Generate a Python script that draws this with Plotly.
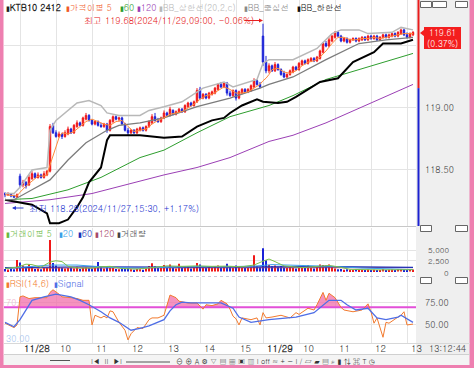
import plotly.graph_objects as go

# ---------------- data (5-minute candles, index 1 = 11/27 15:20) ----------------
candle_idx = list(range(1, 138))
opens = [118.31,118.30,118.31,118.29,118.28,118.45,118.38,118.40,118.38,118.43,
         118.47,118.44,118.46,118.44,118.46,118.49,118.86,118.80,118.77,118.79,
         118.77,118.79,118.83,118.80,118.85,118.88,118.86,118.91,118.94,118.90,
         118.87,118.89,118.86,118.85,118.87,118.82,118.89,118.93,118.91,118.92,
         118.87,118.82,118.80,118.82,118.80,118.82,118.84,118.82,118.85,118.88,
         118.93,118.90,118.89,118.92,118.96,118.94,118.98,118.95,118.97,118.99,
         118.97,119.01,119.04,119.02,119.05,119.15,119.08,119.11,119.08,119.11,
         119.12,119.15,119.19,119.17,119.20,119.12,119.10,119.14,119.08,119.12,
         119.15,119.13,119.14,119.17,119.22,119.19,119.58,119.37,119.30,119.34,
         119.30,119.35,119.31,119.28,119.25,119.27,119.29,119.33,119.31,119.35,
         119.38,119.36,119.38,119.40,119.38,119.40,119.45,119.52,119.50,119.54,
         119.57,119.61,119.58,119.54,119.56,119.53,119.55,119.56,119.54,119.55,
         119.57,119.55,119.58,119.56,119.58,119.55,119.57,119.59,119.57,119.58,
         119.60,119.58,119.60,119.63,119.59,119.57,119.59]
closes = [118.30,118.31,118.29,118.28,118.30,118.38,118.40,118.37,118.44,118.47,
          118.44,118.46,118.44,118.47,118.49,118.85,118.80,118.77,118.79,118.77,
          118.80,118.83,118.80,118.86,118.88,118.86,118.92,118.94,118.90,118.87,
          118.89,118.86,118.85,118.87,118.82,118.90,118.93,118.91,118.92,118.87,
          118.82,118.80,118.82,118.80,118.83,118.84,118.82,118.85,118.89,118.93,
          118.90,118.89,118.92,118.96,118.94,118.99,118.95,118.97,118.99,118.97,
          119.02,119.04,119.02,119.05,119.14,119.08,119.11,119.08,119.12,119.13,
          119.16,119.19,119.17,119.20,119.12,119.10,119.14,119.08,119.13,119.15,
          119.13,119.15,119.18,119.22,119.19,119.17,119.37,119.30,119.34,119.30,
          119.35,119.31,119.27,119.25,119.27,119.30,119.33,119.31,119.36,119.38,
          119.36,119.39,119.40,119.38,119.41,119.46,119.52,119.50,119.55,119.58,
          119.61,119.58,119.54,119.56,119.53,119.55,119.56,119.54,119.56,119.57,
          119.55,119.58,119.56,119.58,119.55,119.57,119.59,119.57,119.59,119.60,
          119.58,119.61,119.63,119.59,119.57,119.60,119.61]
highs = [118.32,118.32,118.31,118.30,118.31,118.47,118.42,118.41,118.46,118.49,
         118.48,118.48,118.47,118.49,118.50,118.87,118.88,118.82,118.81,118.80,
         118.82,118.85,118.84,118.87,118.90,118.89,118.93,118.96,118.95,118.91,
         118.90,118.90,118.88,118.88,118.88,118.91,118.94,118.94,118.93,118.93,
         118.88,118.84,118.83,118.83,118.84,118.85,118.85,118.86,118.90,118.95,
         118.96,118.92,118.93,118.98,118.97,119.01,118.99,118.98,119.00,119.00,
         119.03,119.05,119.05,119.06,119.16,119.17,119.12,119.12,119.13,119.14,
         119.17,119.20,119.21,119.21,119.21,119.14,119.15,119.15,119.14,119.16,
         119.16,119.16,119.19,119.24,119.23,119.21,119.68,119.42,119.36,119.35,
         119.37,119.36,119.32,119.30,119.28,119.31,119.34,119.34,119.37,119.39,
         119.39,119.40,119.41,119.41,119.42,119.47,119.53,119.54,119.57,119.59,
         119.62,119.62,119.59,119.57,119.57,119.56,119.57,119.57,119.57,119.58,
         119.58,119.59,119.59,119.59,119.59,119.58,119.60,119.60,119.60,119.61,
         119.61,119.62,119.64,119.64,119.61,119.61,119.62]
lows = [118.28,118.29,118.28,118.28,118.28,118.36,118.36,118.35,118.37,118.42,
        118.43,118.43,118.43,118.43,118.45,118.48,118.79,118.76,118.76,118.75,
        118.76,118.78,118.79,118.79,118.84,118.85,118.85,118.90,118.89,118.86,
        118.86,118.85,118.84,118.84,118.80,118.81,118.88,118.90,118.89,118.86,
        118.81,118.78,118.79,118.79,118.79,118.81,118.81,118.81,118.84,118.87,
        118.89,118.88,118.88,118.91,118.93,118.93,118.94,118.94,118.96,118.96,
        118.96,119.00,119.01,119.01,119.04,119.07,119.07,119.07,119.07,119.10,
        119.11,119.14,119.16,119.16,119.10,119.09,119.09,119.06,119.07,119.11,
        119.12,119.12,119.13,119.16,119.18,119.16,119.34,119.28,119.28,119.29,
        119.29,119.30,119.26,119.24,119.24,119.26,119.28,119.30,119.30,119.34,
        119.35,119.35,119.37,119.37,119.37,119.39,119.44,119.49,119.49,119.53,
        119.56,119.57,119.53,119.53,119.52,119.52,119.54,119.53,119.53,119.54,
        119.54,119.54,119.55,119.55,119.54,119.54,119.56,119.56,119.56,119.57,
        119.57,119.57,119.59,119.58,119.56,119.56,119.58]
volumes = [600,450,700,550,2700, 2100,1400,900,1700,1200, 600,700,500,800,900,
           7300,2000,1400,1000,900, 700,800,900,700,1100, 600,900,1000,800,700,
           900,2200,1000,700,1200, 900,800,600,500,700, 600,800,500,400,600,
           500,400,700,1300,1900, 1200,800,900,1500,1000, 1600,900,700,1800,800,
           1000,1300,700,900,2000, 1600,900,800,1100,900, 1200,1400,900,1000,1800,
           1100,800,1400,1000,900, 800,900,1000,3800,1200, 1000,5400,2600,1500,1200,
           1400,1100,1300,900,800, 1000,900,700,1100,900, 800,1500,900,700,1000,
           1600,1500,1400,1600,1200, 700,500,600,400,500, 400,300,500,350,400,
           300,450,350,400,300, 350,500,300,400,450, 350,500,600,400,350, 500,450]

# indicator lines (sampled at candle indices)
ma5_x = [1,5,6,8,10,12,14,15,16,17,18,19,20,22,24,26,28,30,32,34,36,38,40,42,44,46,48,50,52,54,56,58,60,62,64,66,68,70,72,74,76,78,80,82,84,86,87,88,89,90,92,94,96,98,100,102,104,106,108,110,112,114,116,118,120,122,124,126,128,130,132,134,136,137]
ma5_y = [118.30,118.29,118.32,118.37,118.41,118.45,118.45,118.46,118.54,118.62,118.69,118.76,118.80,118.79,118.81,118.85,118.89,118.91,118.89,118.87,118.86,118.89,118.90,118.85,118.81,118.82,118.83,118.87,118.90,118.92,118.95,118.96,118.97,119.00,119.03,119.07,119.10,119.11,119.14,119.17,119.15,119.12,119.12,119.13,119.16,119.19,119.22,119.24,119.27,119.31,119.32,119.29,119.28,119.30,119.34,119.37,119.38,119.41,119.46,119.52,119.57,119.57,119.55,119.55,119.56,119.56,119.57,119.56,119.57,119.58,119.59,119.60,119.60,119.60]
bbu_x = [1,4,6,10,15,16,18,22,25,29,33,35,39,46,49,54,60,67,74,77,82,85,87,89,97,105,110,113,119,122,130,133,137]
bbu_y = [118.31,118.31,118.36,118.50,118.52,118.82,118.90,118.98,119.04,119.06,119.02,118.96,118.94,118.94,118.98,119.01,119.05,119.16,119.21,119.17,119.21,119.23,119.36,119.39,119.39,119.48,119.60,119.63,119.63,119.60,119.61,119.65,119.63]
bbm_x = [1,4,10,16,22,28,35,39,46,54,65,76,86,89,97,108,119,128,137]
bbm_y = [118.26,118.26,118.34,118.42,118.58,118.72,118.82,118.86,118.88,118.92,119.01,119.08,119.16,119.19,119.25,119.39,119.52,119.55,119.57]
bbl_x = [1,6,10,15,16,19,22,25,27,29,33,35,36,42,46,54,60,65,70,74,76,80,85,87,92,95,98,106,112,117,124,127,133,137]
bbl_y = [118.26,118.24,118.22,118.15,118.07,118.07,118.10,118.20,118.28,118.40,118.52,118.74,118.78,118.78,118.78,118.76,118.77,118.85,118.90,118.92,118.96,119.02,119.07,119.05,119.04,119.05,119.09,119.21,119.24,119.37,119.45,119.52,119.52,119.55]
ma60_x = [1,10,22,33,46,54,65,76,89,97,108,119,137]
ma60_y = [118.26,118.27,118.34,118.44,118.60,118.66,118.80,118.93,119.02,119.10,119.23,119.31,119.44]
ma120_x = [1,16,30,46,54,65,76,89,97,108,119,137]
ma120_y = [118.23,118.26,118.31,118.41,118.46,118.52,118.60,118.73,118.78,118.88,119.00,119.19]

vma5_x = [1,5,8,10,13,16,18,20,22,25,30,33,36,40,45,50,55,60,65,70,75,80,84,87,89,91,94,100,106,109,112,116,125,137]
vma5_y = [700,1000,1700,1600,1000,2200,2500,2300,1200,850,800,1100,1200,700,550,1000,1300,1200,1300,1200,1250,1100,1500,2400,2900,2300,1300,900,1200,1400,1100,500,380,420]
vma20_x = [1,10,16,25,35,45,55,65,75,85,90,100,110,120,137]
vma20_y = [700,1200,1500,1500,1000,800,1000,1200,1100,1300,1600,1400,1200,800,450]
vma60_x = [1,30,60,90,110,137]
vma60_y = [900,1100,1000,1100,1150,950]
vma120_x = [1,60,137]
vma120_y = [800,850,900]

rsi_x = [1,3,4,5,6,7,9,11,13,15,16,17,19,20,23,25,27,29,30,31,33,34,35,36,37,39,41,42,43,45,47,49,50,52,54,55,56,58,59,62,64,65,67,68,70,72,73,75,76,77,78,79,80,83,85,86,87,88,90,93,95,96,98,99,102,104,105,107,108,109,111,113,114,117,120,122,123,124,125,127,128,129,132,133,134,135,137]
rsi_y = [52,49,47,50,82,83,80,81,81,81,87,90,85,82,81,80,78,78,50,61,58,60,58,66,65,53,44,33,40,47,46,56,58,58,61,73,84,81,77,75,75,75,68,73,72,74,78,74,68,60,57,50,58,56,58,50,64,58,59,61,59,58,64,62,69,67,73,87,78,86,81,70,67,65,67,74,65,52,58,36,53,52,59,61,65,50,51]
sig_x = [1,4,6,10,14,18,23,26,29,33,36,39,43,46,49,52,54,56,58,60,63,69,73,77,79,83,89,98,104,109,113,115,118,122,125,128,132,133,137]
sig_y = [53,48,56,78,82,85,82,78,73,65,58,53,44,46,49,53,56,66,73,76,75,75,75,69,59,53,56,59,64,78,78,73,67,69,58,56,59,61,53]
rsi_level = 70

tick_idx = [6,18,30,42,54,66,78,87,99,111,123,135]
tick_text = ["11/28","10","11","12","13","14","15","11/29","10","11","12","13"]
price_ticks = [118.5, 119.0, 119.5]
price_tick_text = ["118.50", "119.00", ""]
vol_ticks = [0, 2500, 5000]
vol_tick_text = ["0", "2,500", "5,000"]
rsi_ticks = [50, 75]
rsi_tick_text = ["50.00", "75.00"]
prev_close = 119.16
last_price_text = ["119.61", "(0.37%)"]
high_text = "최고 119.68(2024/11/29,09:00, -0.06%)"
low_text = "최저 118.28(2024/11/27,15:30, +1.17%)"

# ---------------- layout geometry ----------------
W, H = 474, 368
L, R, T, B = 4, 58, 0, 25
PW, PH = W - L - R, H - T - B
def px(x): return (x - L) / PW
def py(y): return (PH - (y - T)) / PH

FONT = "Gulim, Dotum, 'Noto Sans CJK KR', 'DejaVu Sans', sans-serif"
UP, DN = "#f01818", "#1a22d8"
GRID = "#e4e4e4"
XR = [0.667, 138.0]

fig = go.Figure()

# ---- main price panel ----
fig.add_trace(go.Scatter(x=ma120_x, y=ma120_y, mode="lines", line=dict(color="#9b3fb5", width=1), hoverinfo="skip"))
fig.add_trace(go.Scatter(x=ma60_x, y=ma60_y, mode="lines", line=dict(color="#2e9e2e", width=1), hoverinfo="skip"))
fig.add_trace(go.Scatter(x=bbl_x, y=bbl_y, mode="lines", line=dict(color="#000000", width=2), hoverinfo="skip"))
fig.add_trace(go.Scatter(x=bbm_x, y=bbm_y, mode="lines", line=dict(color="#7c7c7c", width=1.3), hoverinfo="skip"))
fig.add_trace(go.Scatter(x=bbu_x, y=bbu_y, mode="lines", line=dict(color="#b8b8b8", width=1.5), hoverinfo="skip"))
fig.add_trace(go.Scatter(x=ma5_x, y=ma5_y, mode="lines", line=dict(color="#ff8a3a", width=1), hoverinfo="skip"))
fig.add_trace(go.Candlestick(
    x=candle_idx, open=opens, high=highs, low=lows, close=closes,
    increasing=dict(line=dict(color=UP, width=1), fillcolor=UP),
    decreasing=dict(line=dict(color=DN, width=1), fillcolor=DN),
    whiskerwidth=0, hoverinfo="skip", xaxis="x", yaxis="y"))

# ---- volume panel ----
vcolors = [UP if c >= o else DN for o, c in zip(opens, closes)]
fig.add_trace(go.Bar(x=candle_idx, y=volumes, marker=dict(color=vcolors, line=dict(width=0)),
                     width=0.62, xaxis="x2", yaxis="y2", hoverinfo="skip"))
fig.add_trace(go.Scatter(x=vma120_x, y=vma120_y, mode="lines", line=dict(color="#a84868", width=1), xaxis="x2", yaxis="y2", hoverinfo="skip"))
fig.add_trace(go.Scatter(x=vma60_x, y=vma60_y, mode="lines", line=dict(color="#2030b8", width=1.2), xaxis="x2", yaxis="y2", hoverinfo="skip"))
fig.add_trace(go.Scatter(x=vma20_x, y=vma20_y, mode="lines", line=dict(color="#3aa0e8", width=1), xaxis="x2", yaxis="y2", hoverinfo="skip"))
fig.add_trace(go.Scatter(x=vma5_x, y=vma5_y, mode="lines", line=dict(color="#7cc04a", width=1), xaxis="x2", yaxis="y2", hoverinfo="skip"))

# ---- RSI panel ----
def above(xs, ys, level):
    fx, fy = [], []
    for i in range(len(xs)):
        if i > 0:
            y0, y1 = ys[i - 1], ys[i]
            if (y0 - level) * (y1 - level) < 0:
                t = (level - y0) / (y1 - y0)
                fx.append(xs[i - 1] + t * (xs[i] - xs[i - 1])); fy.append(level)
        fx.append(xs[i]); fy.append(max(ys[i], level))
    return fx, fy
fx, fy = above(rsi_x, rsi_y, rsi_level)
fig.add_trace(go.Scatter(x=fx, y=[rsi_level] * len(fx), mode="lines", line=dict(width=0), xaxis="x3", yaxis="y3", hoverinfo="skip"))
fig.add_trace(go.Scatter(x=fx, y=fy, mode="lines", line=dict(width=0), fill="tonexty",
                         fillcolor="rgba(242,110,170,0.75)", xaxis="x3", yaxis="y3", hoverinfo="skip"))
fig.add_trace(go.Scatter(x=[XR[0], XR[1] + 1], y=[rsi_level, rsi_level], mode="lines", line=dict(color="#e24fd8", width=2),
                         xaxis="x3", yaxis="y3", hoverinfo="skip", cliponaxis=False))
fig.add_trace(go.Scatter(x=rsi_x, y=rsi_y, mode="lines", line=dict(color="#f27a2e", width=1), xaxis="x3", yaxis="y3", hoverinfo="skip"))
fig.add_trace(go.Scatter(x=sig_x, y=sig_y, mode="lines", line=dict(color="#4f6ee6", width=1.3), xaxis="x3", yaxis="y3", hoverinfo="skip"))

xcommon = dict(range=XR, tickvals=tick_idx, showticklabels=False, showgrid=True, gridcolor=GRID,
               gridwidth=1, zeroline=False, showline=False, ticks="", fixedrange=True)
ycommon = dict(showticklabels=False, showgrid=True, gridcolor=GRID, gridwidth=1, zeroline=False,
               showline=False, ticks="", side="right", fixedrange=True)
fig.update_layout(
    width=W, height=H, margin=dict(l=L, r=R, t=T, b=B),
    paper_bgcolor="white", plot_bgcolor="white", showlegend=False,
    font=dict(family=FONT, size=9, color="#333"),
    xaxis=dict(domain=[0, 1], anchor="y", rangeslider=dict(visible=False), **xcommon),
    xaxis2=dict(domain=[0, 1], anchor="y2", matches="x", **xcommon),
    xaxis3=dict(domain=[0, 1], anchor="y3", matches="x", **xcommon),
    yaxis=dict(domain=[py(226), 1], range=[118.048, 119.871], tickvals=price_ticks, anchor="x", **ycommon),
    yaxis2=dict(domain=[py(276), py(228)], range=[-1047, 10116], tickvals=vol_ticks[1:], anchor="x2", **ycommon),
    yaxis3=dict(domain=[0, py(277)], range=[29.5, 104.5], tickvals=rsi_ticks, anchor="x3", **ycommon),
)

shapes = []
ann = []
def rect(x0, y0, x1, y1, fill, line=None, layer="below"):
    shapes.append(dict(type="rect", xref="paper", yref="paper", x0=px(x0), x1=px(x1), y0=py(y1), y1=py(y0),
                       fillcolor=fill, line=dict(width=1 if line else 0, color=line or fill), layer=layer))
def hline(x0, x1, y, color, width=1, dash=None):
    shapes.append(dict(type="line", xref="paper", yref="paper", x0=px(x0), x1=px(x1), y0=py(y), y1=py(y),
                       line=dict(color=color, width=width, dash=dash)))

# right axis panel and frame
rect(416, 0, 470, 355, "#efefef")
rect(0, 355, 474, 368, "#f4f4f4")
rect(0, 0, 3.5, 368, "#ee7fb0", layer="above")
rect(469.5, 0, 474, 368, "#ee7fb0", layer="above")
rect(0, 365, 474, 368, "#ee7fb0", layer="above")
hline(4, 416, 226.5, "#c8c8c8")
hline(4, 416, 276.5, "#c8c8d8", dash="dot")
hline(4, 470, 343.5, "#d8d8d8")
hline(4, 470, 354.5, "#d0d0d0")
# panel icons in right panel
for yy in (1.5, 225.5, 277.5):
    rect(420.5, yy, 431.5, yy + 6, "#ffffff", line="#666666", layer="above")
    rect(455.5, yy, 467.5, yy + 6, "#ffffff", line="#666666", layer="above")
rect(432.5, 1.5, 446.5, 7.5, "#ffffff", line="#666666", layer="above")

# price-side coloured bar (red above prev close, blue below)
shapes.append(dict(type="line", xref="paper", yref="y", x0=px(418.5), x1=px(418.5), y0=prev_close, y1=119.871,
                   line=dict(color="#e81c1c", width=2)))
shapes.append(dict(type="line", xref="paper", yref="y", x0=px(418.5), x1=px(418.5), y0=118.048, y1=prev_close,
                   line=dict(color="#1c22d0", width=2)))

# last price tag
rect(424, 27, 461, 49, "#f41e1e", layer="above")
shapes.append(dict(type="path", xref="paper", yref="paper",
                   path=f"M {px(420)} {py(33)} L {px(424.5)} {py(29.5)} L {px(424.5)} {py(36.5)} Z",
                   fillcolor="#f41e1e", line=dict(width=0)))
ann.append(dict(x=px(442.5), y=py(32.5), xref="paper", yref="paper", text=last_price_text[0], showarrow=False,
                font=dict(size=8.5, color="white"), xanchor="center", yanchor="middle"))
ann.append(dict(x=px(442.5), y=py(43.5), xref="paper", yref="paper", text=last_price_text[1], showarrow=False,
                font=dict(size=8.5, color="white"), xanchor="center", yanchor="middle"))

# right tick labels
for v, t in zip(price_ticks, price_tick_text):
    if t:
        ann.append(dict(x=px(456), y=v, xref="paper", yref="y", text=t, showarrow=False,
                        font=dict(size=9, color="#444"), xanchor="right", yanchor="middle"))
vshift = [-1, 0, 1]
for v, t, s in zip(vol_ticks, vol_tick_text, vshift):
    ann.append(dict(x=px(451), y=v, xref="paper", yref="y2", text=t, showarrow=False, yshift=s,
                    font=dict(size=8, color="#444"), xanchor="right", yanchor="middle"))
for v, t in zip(rsi_ticks, rsi_tick_text):
    ann.append(dict(x=px(451), y=v, xref="paper", yref="y3", text=t, showarrow=False,
                    font=dict(size=9, color="#444"), xanchor="right", yanchor="middle"))
ann.append(dict(x=px(447), y=py(348.5), xref="paper", yref="paper", text="13:12:44", showarrow=False,
                font=dict(size=9, color="#444"), xanchor="center", yanchor="middle"))

# x tick labels (left aligned at the grid line)
for i, t in zip(tick_idx, tick_text):
    bold = "/" in t
    ann.append(dict(x=i + 0.6, y=py(348), xref="x", yref="paper",
                    text=f"<b>{t}</b>" if bold else t, showarrow=False,
                    font=dict(size=9.5, color="#333"), xanchor="left", yanchor="middle"))

# legends
def leg(x, y, items, size=9):
    ann.append(dict(x=px(x), y=py(y), xref="paper", yref="paper", showarrow=False, xanchor="left", yanchor="middle",
                    text="".join(items), font=dict(size=size), borderpad=0))
def item(mc, label, tc=None, bold=False):
    tc = tc or mc
    lab = f"<b>{label}</b>" if bold else label
    return f"<span style='color:{mc};font-size:7px'>▮</span><span style='color:{tc}'>{lab}</span>"
LY = 7
leg(5, LY, [item("#222", "KTB10 2412", bold=True)])
leg(65, LY, [item("#f05a28", "가격이평 5")], size=8.5)
leg(119, LY, [item("#2e9e2e", "60")])
leg(136, LY, [item("#9b3fb5", "120")])
leg(158, LY, [item("#b8b8b8", "BB_상한선(20,2,c)")], size=8.5)
leg(243, LY, [item("#8a8a8a", "BB_중심선")], size=8.5)
leg(296, LY, [item("#111", "BB_하한선")], size=8.5)
leg(5, 233, [item("#6ab83e", "거래이평 5")], size=8.5)
leg(58, 233, [item("#3aa0e8", "20")])
leg(77, 233, [item("#2030b8", "60")])
leg(94, 233, [item("#a84868", "120")])
leg(116, 233, [item("#444", "거래량")], size=8.5)
leg(5, 283, [item("#f27a2e", "RSI(14,6)")])
leg(53, 283, [item("#4f6ee6", "Signal")])

# RSI level labels
ann.append(dict(x=px(4), y=py(302), xref="paper", yref="paper", text="70.", showarrow=False,
                font=dict(size=9, color="#f2b6cf"), xanchor="left", yanchor="middle"))
ann.append(dict(x=px(4), y=py(338), xref="paper", yref="paper", text="30.00", showarrow=False,
                font=dict(size=9, color="#a9c6ee"), xanchor="left", yanchor="middle"))

# high / low annotations
ann.append(dict(x=px(83), y=py(21), xref="paper", yref="paper", text=high_text, showarrow=False, borderpad=0,
                font=dict(size=9, color="#e62020"), xanchor="left", yanchor="middle"))
ann.append(dict(x=px(263), y=py(20.5), xref="paper", yref="paper", text="", showarrow=True, ax=-20, ay=0,
                arrowhead=2, arrowsize=0.8, arrowwidth=1, arrowcolor="#e62020"))
ann.append(dict(x=px(27), y=py(208), xref="paper", yref="paper", text=low_text, showarrow=False,
                font=dict(size=9, color="#2a3ad0"), xanchor="left", yanchor="middle"))
ann.append(dict(x=px(12), y=py(208), xref="paper", yref="paper", text="", showarrow=True, ax=13, ay=0,
                arrowhead=2, arrowsize=0.8, arrowwidth=1, arrowcolor="#2a3ad0"))

# toolbar
hline(50, 70, 360.5, "#555")
ann.append(dict(x=px(90), y=py(360.5), xref="paper", yref="paper", text="I◀  II  ▶I", showarrow=False, borderpad=0,
                font=dict(size=7, color="#333"), xanchor="left", yanchor="middle"))
hline(126, 170, 362, "#555")
ann.append(dict(x=px(175), y=py(360.5), xref="paper", yref="paper", borderpad=0,
                text="⊖ ⊕ A ⚙ ▽ ▤ ▦ ▣ ▥ I off ≈ + − I ∕ ▱ ▰ ▤ ⌕ ▮ ⇅ ⌘ T ◷", showarrow=False,
                font=dict(size=7, color="#333"), xanchor="left", yanchor="middle"))

fig.update_layout(shapes=shapes, annotations=ann)
fig.write_html("out.html", config={"displayModeBar": False},
               post_script="document.body.style.margin='0px';document.body.style.overflow='hidden';")
